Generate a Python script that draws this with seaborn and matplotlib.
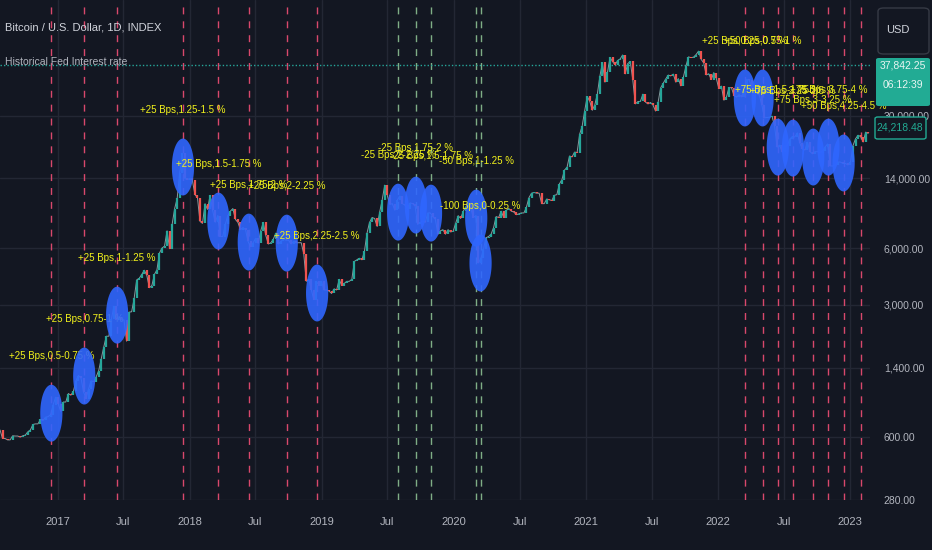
import numpy as np
import pandas as pd
import matplotlib
matplotlib.use("Agg")
import matplotlib.pyplot as plt
from matplotlib.path import Path
from matplotlib.patches import FancyBboxPatch
import seaborn as sns

# weekly BTC/USD prices (Mondays)
btc_2016 = [655, 590, 590, 580, 580, 610, 608, 608, 600, 610, 615, 640, 655, 700, 705, 705,
            745, 735, 765, 770, 790, 890, 975]
btc_2017 = [900, 820, 920, 920, 1020, 1000, 1050, 1190, 1270, 1230, 1040, 960, 1080, 1190, 1180,
            1250, 1350, 1560, 1800, 2050, 2050, 2520, 2950, 2500, 2600, 2500, 2500, 1930, 2750,
            2760, 3250, 4070, 4150, 4350, 4580, 4300, 3700, 3800, 4350, 4600, 5650, 6000, 6140,
            7400, 5950, 8000, 9700, 11000, 15000, 19000, 14000, 13800]
btc_2018 = [14000, 13700, 11500, 11100, 8300, 8100, 10300, 9600, 11400, 9500, 8200, 8900, 6900,
            6900, 8000, 8900, 9400, 9700, 8500, 8200, 7500, 7700, 7500, 6500, 6100, 6400, 6750,
            6350, 7400, 8200, 7000, 6300, 6400, 6700, 7200, 6300, 6500, 6700, 6600, 6600, 6300,
            6500, 6400, 6400, 6400, 5600, 4000, 4100, 3600, 3200, 4000, 3800, 4000]
btc_2019 = [3600, 3600, 3550, 3450, 3650, 3600, 4100, 3800, 3900, 4000, 4000, 4100, 5100, 5200,
            5300, 5200, 5800, 7200, 8200, 8700, 8600, 7800, 9300, 10800, 12900, 11400, 10200,
            10300, 9500, 10800, 11300, 10300, 10100, 9600, 10400, 10300, 10000, 8000, 8200, 8300,
            8200, 9200, 9200, 8800, 8500, 7100, 7400, 7500, 7100, 7500, 7300, 7350]
btc_2020 = [8100, 8900, 8600, 9400, 9900, 10300, 9700, 8700, 8900, 5000, 5300, 5900, 6800, 6900,
            7100, 7700, 8800, 8700, 9400, 8700, 9500, 9700, 9400, 9300, 9000, 9100, 9200, 9200,
            9900, 11100, 11700, 11800, 11700, 11700, 10300, 10300, 10900, 10800, 10700, 11400,
            11500, 13100, 13800, 15500, 16000, 18400, 18200, 19300, 19200, 24000, 26500, 32000]
btc_2021 = [38000, 35800, 32100, 34300, 39300, 48600, 57500, 45200, 51000, 61200, 58100, 55800,
            58900, 60000, 63000, 50000, 56700, 58200, 46400, 34700, 35700, 35800, 39100, 35500,
            34700, 35300, 34200, 31800, 35400, 42200, 44600, 47000, 49300, 48800, 49900, 45200,
            47200, 43200, 48200, 55000, 61500, 61000, 61300, 63300, 66000, 59700, 57300, 49400,
            50100, 46700, 50800, 47300]
btc_2022 = [41800, 43100, 36300, 37700, 42400, 42200, 38300, 37700, 38800, 37800, 41300, 46800,
            46400, 42200, 39700, 39500, 38500, 34100, 29300, 29400, 29500, 29900, 26600, 20500,
            21000, 19300, 20800, 20800, 22600, 23300, 23200, 24400, 21500, 20000, 19800, 21800,
            19400, 18900, 19400, 19400, 19200, 19600, 20600, 21300, 16300, 16300, 16500, 17100,
            17100, 16800, 16800, 16500]
btc_2023 = [17100, 20900, 22700, 23700, 23300, 21800, 24600, 24218]

# Fed rate decisions
fed_dates = ["2016-12-14", "2017-03-15", "2017-06-14", "2017-12-13", "2018-03-21", "2018-06-13",
             "2018-09-26", "2018-12-19", "2019-07-31", "2019-09-18", "2019-10-30", "2020-03-03",
             "2020-03-15", "2022-03-16", "2022-05-04", "2022-06-15", "2022-07-27", "2022-09-21",
             "2022-11-02", "2022-12-14"]
fed_labels = ["+25 Bps,0.5-0.75 %", "+25 Bps,0.75-1 %", "+25 Bps,1-1.25 %", "+25 Bps,1.25-1.5 %",
              "+25 Bps,1.5-1.75 %", "+25 Bps,1.75-2 %", "+25 Bps,2-2.25 %", "+25 Bps,2.25-2.5 %",
              "-25 Bps,2-2.25 %", "-25 Bps,1.75-2 %", "-25 Bps,1.5-1.75 %", "-50 Bps,1-1.25 %",
              "-100 Bps,0-0.25 %", "+25 Bps,0.25-0.5 %", "+50 Bps,0.75-1 %", "+75 Bps,1.5-1.75 %",
              "+75 Bps,2.25-2.5 %", "+75 Bps,3-3.25 %", "+75 Bps,3.75-4 %", "+50 Bps,4.25-4.5 %"]
fed_btc = [803, 1262, 2650, 16090, 8330, 6450, 6370, 3470, 9290, 10120, 9180, 8640, 5000,
           37300, 37300, 20500, 20260, 18170, 20500, 16900]
# extra hike line with no bubble
extra_hike_dates = ["2023-02-01"]

y_ticks = [280, 600, 1400, 3000, 6000, 14000, 30000]
y_tick_labels = ["280.00", "600.00", "1,400.00", "3,000.00", "6,000.00", "14,000.00", "30,000.00"]
x_ticks = ["2017-01-01", "2017-07-01", "2018-01-01", "2018-07-01", "2019-01-01", "2019-07-01",
           "2020-01-01", "2020-07-01", "2021-01-01", "2021-07-01", "2022-01-01", "2022-07-01",
           "2023-01-01"]
x_tick_labels = ["2017", "Jul", "2018", "Jul", "2019", "Jul", "2020", "Jul", "2021", "Jul",
                 "2022", "Jul", "2023"]
indicator_level = 55700

BG = "#131722"
GRID = "#232734"
TXT = "#b2b5be"
UP = "#26a69a"
DOWN = "#ef5350"
HIKE = "#d9486c"
CUT = "#7fae86"
BLUE = "#2f66ff"
YELLOW = "#f2f21c"

sns.set_style("dark")
plt.rcParams["font.family"] = ["Liberation Sans Narrow", "Liberation Sans", "DejaVu Sans"]

close = btc_2016 + btc_2017 + btc_2018 + btc_2019 + btc_2020 + btc_2021 + btc_2022 + btc_2023
df = pd.DataFrame({"date": pd.date_range("2016-07-25", periods=len(close), freq="7D"),
                   "close": close})
df["open"] = df["close"].shift(1).fillna(df["close"])

W, H = 932, 550
fig = plt.figure(figsize=(W / 100, H / 100), dpi=100, facecolor=BG)
ax = fig.add_axes([0, 50 / H, 870 / W, 500 / H])
ax.set_facecolor(BG)

fed = pd.DataFrame({"date": pd.to_datetime(fed_dates), "btc": fed_btc, "label": fed_labels})
fed["cut"] = fed["label"].str.startswith("-")

# vertical dashed decision lines
for d, c in zip(fed["date"], fed["cut"]):
    ax.axvline(d, color=CUT if c else HIKE, lw=1, ls=(0, (5, 5)), zorder=1)
for d in pd.to_datetime(extra_hike_dates):
    ax.axvline(d, color=HIKE, lw=1, ls=(0, (5, 5)), zorder=1)

ax.axhline(indicator_level, color=UP, lw=1, ls=(0, (1, 1.5)), zorder=1)

# price
sns.lineplot(data=df, x="date", y="close", ax=ax, color="#8a9a9e", lw=0.7, zorder=2)
up = df["close"] >= df["open"]
ax.vlines(df["date"], df["open"], df["close"], colors=np.where(up, UP, DOWN), lw=1.6, zorder=2)

# bubbles + labels
t = np.linspace(0, 2 * np.pi, 80)
bubble = Path(np.column_stack([0.39 * np.cos(t), np.sin(t)]))
for i, row in fed.iterrows():
    ax.scatter([row["date"]], [row["btc"]], marker=bubble, s=1680, color=BLUE, alpha=0.9,
               edgecolors="none", zorder=3 + 2 * i)
    ax.annotate(row["label"], (row["date"], row["btc"]), xytext=(0, 41), textcoords="offset points",
                ha="center", va="center", color=YELLOW, fontsize=7, zorder=4 + 2 * i)

ax.set_yscale("log")
ax.set_ylim(279, 123000)
ax.set_xlim(pd.Timestamp("2016-07-25"), pd.Timestamp("2023-02-25"))
ax.yaxis.tick_right()
ax.set_yticks(y_ticks)
ax.set_yticklabels(y_tick_labels)
ax.yaxis.set_minor_locator(matplotlib.ticker.NullLocator())
ax.set_xticks(pd.to_datetime(x_ticks))
ax.set_xticklabels(x_tick_labels)
ax.tick_params(axis="y", length=0, pad=10, labelcolor=TXT, labelsize=7.5)
ax.tick_params(axis="x", length=0, pad=12, labelcolor=TXT, labelsize=8)
ax.grid(True, color=GRID, lw=1)
ax.set_xlabel("")
ax.set_ylabel("")
for s in ax.spines.values():
    s.set_visible(False)
for lab in ax.get_yticklabels():
    lab.set_horizontalalignment("left")


def px(x, y):
    return x / W, 1 - y / H


fig.text(*px(5, 27), "Bitcoin / U.S. Dollar, 1D, INDEX", color="#d1d4dc", fontsize=8, va="center")
fig.text(*px(5, 62), "Historical Fed Interest rate", color=TXT, fontsize=7.5, va="center")

# price boxes on the scale
x0, y0 = px(876, 106)
fig.patches.append(FancyBboxPatch((x0, y0), 54 / W, 48 / H, boxstyle="round,pad=0,rounding_size=0.003",
                                  transform=fig.transFigure, fc="#22ab94", ec="none"))
fig.text(*px(903, 66), "37,842.25", color="#e8f5f2", fontsize=7.5, ha="center", va="center")
fig.text(*px(903, 85), "06:12:39", color="#e8f5f2", fontsize=7.5, ha="center", va="center")
x0, y0 = px(875, 139)
fig.patches.append(FancyBboxPatch((x0, y0), 51 / W, 22 / H, boxstyle="round,pad=0,rounding_size=0.003",
                                  transform=fig.transFigure, fc=BG, ec="#22ab94", lw=1))
fig.text(*px(900, 128), "24,218.48", color="#22ab94", fontsize=7.5, ha="center", va="center")

x0, y0 = px(878, 54)
fig.patches.append(FancyBboxPatch((x0, y0), 51 / W, 46 / H, boxstyle="round,pad=0,rounding_size=0.006",
                                  transform=fig.transFigure, fc=BG, ec="#363a45", lw=1))
fig.text(*px(886, 30), "USD", color="#d1d4dc", fontsize=8, va="center")

fig.savefig("out.png", dpi=100, facecolor=BG)
